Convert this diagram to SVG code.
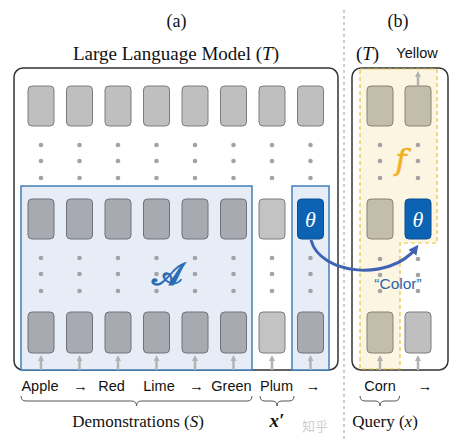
<svg xmlns="http://www.w3.org/2000/svg" width="474" height="441" viewBox="0 0 474 441">
<defs>
<style>
.serif{font-family:"Liberation Serif","Times New Roman",serif;fill:#111}
.sans{font-family:"Liberation Sans",Arial,sans-serif;fill:#111;font-size:14.5px}
.frame{fill:#fff;stroke:#333;stroke-width:1.5}
.tk{stroke:#7c7c7c;stroke-width:1}
.g1{fill:#bfbfbf}
.g2{fill:#a7abb1;stroke:#6f7378}
.g3{fill:#c3c3c3}
.bg{fill:#c3bdae;stroke:#888272}
.th{fill:#0d63b3;stroke:#0a4f92}
.dot{fill:#a3a3a3}
.up{stroke:#b3b3b3;stroke-width:2.5;fill:none}
.brace{fill:none;stroke:#555;stroke-width:1}
.theta{font-family:"Liberation Serif",serif;font-style:italic;font-size:22px;fill:#fff}
</style>
<marker id="ah" markerWidth="6" markerHeight="6" refX="3" refY="3" orient="auto" markerUnits="userSpaceOnUse" viewBox="0 0 6 6"><path d="M0,0 L6,3 L0,6 z" fill="#b3b3b3"/></marker>
<marker id="ab" markerWidth="10" markerHeight="10" refX="6" refY="5" orient="auto" markerUnits="userSpaceOnUse" viewBox="0 0 10 10"><path d="M0,0 L10,5 L0,10 z" fill="#3f62b5"/></marker>
</defs>
<rect width="474" height="441" fill="#fff"/>

<g id="titles">
<text class="serif" x="176.5" y="27" font-size="18" text-anchor="middle">(a)</text>
<text class="serif" x="398" y="27" font-size="18" text-anchor="middle">(b)</text>
<text class="serif" x="176" y="60" font-size="19" text-anchor="middle">Large Language Model (<tspan font-style="italic">T</tspan>)</text>
<text class="serif" x="367.5" y="60" font-size="19" text-anchor="middle">(<tspan font-style="italic">T</tspan>)</text>
<text class="sans" x="417" y="58" text-anchor="middle" font-size="15">Yellow</text>
</g>

<line x1="344" y1="10" x2="344" y2="441" stroke="#a0a0a0" stroke-width="1" stroke-dasharray="3,3"/>

<g id="panel-a">
<rect class="frame" x="14" y="68" width="324" height="302" rx="9"/>
<rect id="region-A" x="21" y="186" width="231" height="184" fill="#e6edf7" stroke="#3f7fb8" stroke-width="1.5"/>
<rect id="region-theta" x="292" y="186" width="37" height="184" fill="#e6edf7" stroke="#3f7fb8" stroke-width="1.5"/>
<g id="top-row">
<rect class="tk g1" x="28" y="86" width="26" height="40" rx="4"/>
<rect class="tk g1" x="66.5" y="86" width="26" height="40" rx="4"/>
<rect class="tk g1" x="105" y="86" width="26" height="40" rx="4"/>
<rect class="tk g1" x="143.5" y="86" width="26" height="40" rx="4"/>
<rect class="tk g1" x="182" y="86" width="26" height="40" rx="4"/>
<rect class="tk g1" x="220.5" y="86" width="26" height="40" rx="4"/>
<rect class="tk g1" x="259" y="86" width="26" height="40" rx="4"/>
<rect class="tk g1" x="297.5" y="86" width="26" height="40" rx="4"/>
</g>
<g id="mid-row">
<rect class="tk g2" x="28" y="199" width="26" height="40" rx="4"/>
<rect class="tk g2" x="66.5" y="199" width="26" height="40" rx="4"/>
<rect class="tk g2" x="105" y="199" width="26" height="40" rx="4"/>
<rect class="tk g2" x="143.5" y="199" width="26" height="40" rx="4"/>
<rect class="tk g2" x="182" y="199" width="26" height="40" rx="4"/>
<rect class="tk g2" x="220.5" y="199" width="26" height="40" rx="4"/>
<rect class="tk g3" x="259" y="199" width="26" height="40" rx="4"/>
<g id="theta-a"><rect class="th" x="297.5" y="199" width="26" height="40" rx="4"/><text class="theta" x="310.5" y="226.5" text-anchor="middle">θ</text></g>
</g>
<g id="bottom-row">
<rect class="tk g2" x="28" y="312" width="26" height="41" rx="4"/>
<rect class="tk g2" x="66.5" y="312" width="26" height="41" rx="4"/>
<rect class="tk g2" x="105" y="312" width="26" height="41" rx="4"/>
<rect class="tk g2" x="143.5" y="312" width="26" height="41" rx="4"/>
<rect class="tk g2" x="182" y="312" width="26" height="41" rx="4"/>
<rect class="tk g2" x="220.5" y="312" width="26" height="41" rx="4"/>
<rect class="tk g3" x="259" y="312" width="26" height="41" rx="4"/>
<rect class="tk g2" x="297.5" y="312" width="26" height="41" rx="4"/>
</g>
<g id="dots-a">
<g class="dot">
<circle cx="41" cy="145" r="2.3"/><circle cx="41" cy="161" r="2.3"/><circle cx="41" cy="178" r="2.3"/><circle cx="41" cy="258" r="2.3"/><circle cx="41" cy="274" r="2.3"/><circle cx="41" cy="291" r="2.3"/>
<circle cx="79.5" cy="145" r="2.3"/><circle cx="79.5" cy="161" r="2.3"/><circle cx="79.5" cy="178" r="2.3"/><circle cx="79.5" cy="258" r="2.3"/><circle cx="79.5" cy="274" r="2.3"/><circle cx="79.5" cy="291" r="2.3"/>
<circle cx="118" cy="145" r="2.3"/><circle cx="118" cy="161" r="2.3"/><circle cx="118" cy="178" r="2.3"/><circle cx="118" cy="258" r="2.3"/><circle cx="118" cy="274" r="2.3"/><circle cx="118" cy="291" r="2.3"/>
<circle cx="156.5" cy="145" r="2.3"/><circle cx="156.5" cy="161" r="2.3"/><circle cx="156.5" cy="178" r="2.3"/><circle cx="156.5" cy="258" r="2.3"/><circle cx="156.5" cy="274" r="2.3"/><circle cx="156.5" cy="291" r="2.3"/>
<circle cx="195" cy="145" r="2.3"/><circle cx="195" cy="161" r="2.3"/><circle cx="195" cy="178" r="2.3"/><circle cx="195" cy="258" r="2.3"/><circle cx="195" cy="274" r="2.3"/><circle cx="195" cy="291" r="2.3"/>
<circle cx="233.5" cy="145" r="2.3"/><circle cx="233.5" cy="161" r="2.3"/><circle cx="233.5" cy="178" r="2.3"/><circle cx="233.5" cy="258" r="2.3"/><circle cx="233.5" cy="274" r="2.3"/><circle cx="233.5" cy="291" r="2.3"/>
<circle cx="272" cy="145" r="2.3"/><circle cx="272" cy="161" r="2.3"/><circle cx="272" cy="178" r="2.3"/><circle cx="272" cy="258" r="2.3"/><circle cx="272" cy="274" r="2.3"/><circle cx="272" cy="291" r="2.3"/>
<circle cx="310.5" cy="145" r="2.3"/><circle cx="310.5" cy="161" r="2.3"/><circle cx="310.5" cy="178" r="2.3"/><circle cx="310.5" cy="258" r="2.3"/><circle cx="310.5" cy="274" r="2.3"/><circle cx="310.5" cy="291" r="2.3"/>
</g>
</g>
<text id="label-A" x="167" y="285" font-family="DejaVu Serif,serif" font-size="32" fill="#2a6db5" stroke="#2a6db5" stroke-width="1.3" text-anchor="middle">𝒜</text>
</g>

<g id="panel-b">
<rect class="frame" x="352" y="68" width="96" height="302" rx="9"/>
<path id="region-f" d="M360,69 H437 V243 H400 V369 H360 Z" fill="#fcf3dc" fill-opacity="0.85" stroke="#e3c43a" stroke-width="1.2" stroke-dasharray="4,3"/>
<rect class="tk bg" x="367" y="86" width="26" height="40" rx="4"/>
<rect class="tk bg" x="405" y="86" width="26" height="40" rx="4"/>
<rect class="tk bg" x="367" y="199" width="26" height="40" rx="4"/>
<g id="theta-b"><rect class="th" x="405" y="199" width="26" height="40" rx="4"/><text class="theta" x="418" y="226.5" text-anchor="middle">θ</text></g>
<rect class="tk bg" x="367" y="312" width="26" height="41" rx="4"/>
<rect class="tk g1" x="405" y="312" width="26" height="41" rx="4"/>
<g class="dot">
<circle cx="380" cy="145" r="2.3"/><circle cx="380" cy="161" r="2.3"/><circle cx="380" cy="178" r="2.3"/><circle cx="380" cy="259" r="2.3"/><circle cx="380" cy="275" r="2.3"/><circle cx="380" cy="291" r="2.3"/>
<circle cx="418" cy="145" r="2.3"/><circle cx="418" cy="161" r="2.3"/><circle cx="418" cy="178" r="2.3"/><circle cx="418" cy="259" r="2.3"/><circle cx="418" cy="275" r="2.3"/><circle cx="418" cy="291" r="2.3"/>
</g>
<text id="label-f" x="401" y="170" font-family="DejaVu Serif,serif" font-size="30" font-style="italic" fill="#f2b01e" stroke="#f2b01e" stroke-width="0.6" text-anchor="middle">f</text>
<text id="label-color" x="398" y="289" font-family="Liberation Sans,Arial,sans-serif" font-size="15.5" fill="#2e64a8" text-anchor="middle">“Color”</text>
</g>

<g id="connectors">
<line class="up" x1="41" y1="370" x2="41" y2="358" marker-end="url(#ah)"/>
<line class="up" x1="79.5" y1="370" x2="79.5" y2="358" marker-end="url(#ah)"/>
<line class="up" x1="118" y1="370" x2="118" y2="358" marker-end="url(#ah)"/>
<line class="up" x1="156.5" y1="370" x2="156.5" y2="358" marker-end="url(#ah)"/>
<line class="up" x1="195" y1="370" x2="195" y2="358" marker-end="url(#ah)"/>
<line class="up" x1="233.5" y1="370" x2="233.5" y2="358" marker-end="url(#ah)"/>
<line class="up" x1="272" y1="370" x2="272" y2="358" marker-end="url(#ah)"/>
<line class="up" x1="310.5" y1="370" x2="310.5" y2="358" marker-end="url(#ah)"/>
<line class="up" x1="380" y1="370" x2="380" y2="358" marker-end="url(#ah)"/>
<line class="up" x1="418" y1="370" x2="418" y2="358" marker-end="url(#ah)"/>
<line class="up" x1="418" y1="86" x2="418" y2="74" marker-end="url(#ah)"/>
<path d="M311,240 C320,275 390,282 416,248" fill="none" stroke="#3f62b5" stroke-width="3" marker-end="url(#ab)"/>
</g>

<g id="inputs">
<text class="sans" x="40" y="391" text-anchor="middle">Apple</text>
<text class="sans" x="80.5" y="391" text-anchor="middle">→</text>
<text class="sans" x="111.5" y="391" text-anchor="middle">Red</text>
<text class="sans" x="159" y="391" text-anchor="middle">Lime</text>
<text class="sans" x="196.5" y="391" text-anchor="middle">→</text>
<text class="sans" x="231.5" y="391" text-anchor="middle">Green</text>
<text class="sans" x="276.5" y="391" text-anchor="middle">Plum</text>
<text class="sans" x="313" y="391" text-anchor="middle">→</text>
<text class="sans" x="380" y="391" text-anchor="middle">Corn</text>
<text class="sans" x="425" y="391" text-anchor="middle">→</text>
<path class="brace" d="M21,396 Q21,401 26,401 L131.5,401 Q136.5,401 136.5,406 Q136.5,401 141.5,401 L247,401 Q252,401 252,396"/>
<path class="brace" d="M260,396 Q260,401 265,401 L272,401 Q277,401 277,406 Q277,401 282,401 L289,401 Q294,401 294,396"/>
<path class="brace" d="M360,396 Q360,401 365,401 L375,401 Q380,401 380,406 Q380,401 385,401 L394.5,401 Q399.5,401 399.5,396"/>
<text class="serif" x="138" y="427" font-size="17" text-anchor="middle">Demonstrations (<tspan font-style="italic">S</tspan>)</text>
<text class="serif" x="277" y="427" font-size="19" font-style="italic" font-weight="bold" text-anchor="middle">x′</text>
<text class="serif" x="385" y="427" font-size="17" text-anchor="middle">Query (<tspan font-style="italic">x</tspan>)</text>
<text x="315" y="431" font-family="Noto Sans CJK SC,sans-serif" font-size="13" fill="#cfcfcf" text-anchor="middle">知乎</text>
</g>
</svg>
